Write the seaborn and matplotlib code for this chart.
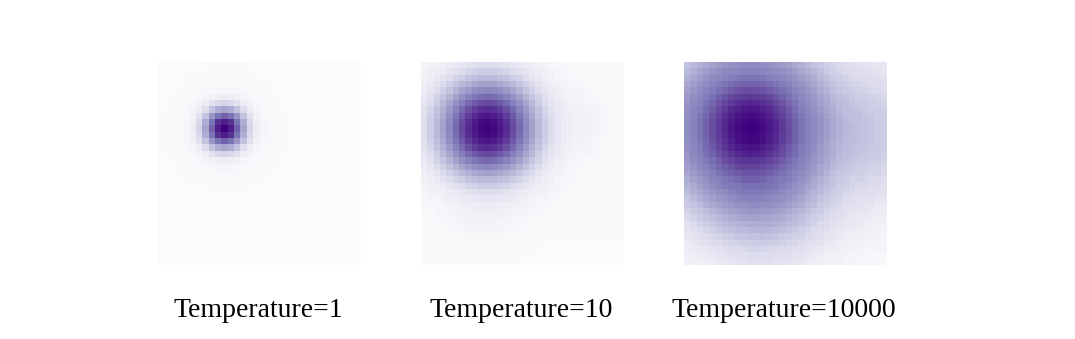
import numpy as np
import matplotlib
matplotlib.use("Agg")
import matplotlib.pyplot as plt
import seaborn as sns

temperatures = [1, 10, 10000]
panel_titles = ["Temperature=1", "Temperature=10", "Temperature=10000"]

# intensity (0-100, relative to each panel's maximum), 32 x 32 cells
t1_values = [
    [1,1,1,1,1,1,1,2,2,2,2,2,2,2,1,1,1,1,1,1,1,1,1,1,1,1,1,1,1,1,1,1],
    [1,1,1,1,2,2,2,2,2,2,2,2,2,2,2,2,1,1,1,1,1,1,1,1,1,1,1,1,1,1,1,1],
    [1,1,1,2,2,2,2,3,3,3,3,3,3,3,2,2,2,1,1,1,1,1,1,1,1,1,1,1,1,1,1,1],
    [1,1,1,2,2,3,3,3,4,4,4,4,4,3,3,3,2,2,1,1,1,1,1,1,1,1,1,1,1,1,1,1],
    [1,1,2,2,3,3,4,4,5,6,7,6,5,4,4,3,3,2,2,1,1,1,1,1,1,1,1,1,1,1,1,1],
    [1,2,2,3,3,4,5,7,10,12,13,12,10,7,5,4,3,3,2,2,1,1,1,1,1,1,1,1,1,1,1,1],
    [1,2,2,3,4,5,8,13,20,25,27,25,20,13,8,5,4,3,2,2,1,1,1,1,1,1,1,1,1,1,1,1],
    [2,2,3,3,4,7,13,23,35,43,46,43,35,23,13,7,4,3,3,2,2,1,1,1,1,1,1,1,1,1,1,1],
    [2,2,3,4,5,10,20,35,52,65,70,65,52,35,20,10,5,4,3,2,2,1,1,1,1,1,1,1,1,1,1,1],
    [2,2,3,4,6,12,25,43,65,84,90,84,65,43,25,12,6,4,3,2,2,1,1,1,1,1,1,1,1,1,1,1],
    [2,2,3,4,7,13,27,46,70,90,100,90,70,46,27,13,7,4,3,2,2,1,1,1,1,1,1,1,1,1,1,1],
    [2,2,3,4,6,12,25,43,65,84,90,84,65,43,25,12,6,4,3,2,2,1,1,1,1,1,1,1,1,1,1,1],
    [2,2,3,4,5,10,20,35,52,65,70,65,52,35,20,10,5,4,3,2,2,1,1,1,1,1,1,1,1,1,1,1],
    [2,2,3,3,4,7,13,23,35,43,46,43,35,23,13,7,4,3,3,2,2,1,1,1,1,1,1,1,1,1,1,1],
    [1,2,2,3,4,5,8,13,20,25,27,25,20,13,8,5,4,3,2,2,1,1,1,1,1,1,1,1,1,1,1,1],
    [1,2,2,3,3,4,5,7,10,12,13,12,10,7,5,4,3,3,2,2,1,1,1,1,1,1,1,1,1,1,1,1],
    [1,1,2,2,3,3,4,4,5,6,7,6,5,4,4,3,3,2,2,1,1,1,1,1,1,1,1,1,1,1,1,1],
    [1,1,1,2,2,3,3,3,4,4,4,4,4,3,3,3,2,2,1,1,1,1,1,1,1,1,1,1,1,1,1,1],
    [1,1,1,2,2,2,2,3,3,3,3,3,3,3,2,2,2,1,1,1,1,1,1,1,1,1,1,1,1,1,1,1],
    [1,1,1,1,2,2,2,2,2,2,2,2,2,2,2,2,1,1,1,1,1,1,1,1,1,1,1,1,1,1,1,1],
    [1,1,1,1,1,1,1,2,2,2,2,2,2,2,1,1,1,1,1,1,1,1,1,1,1,1,1,1,1,1,1,1],
    [1,1,1,1,1,1,1,1,1,1,1,1,1,1,1,1,1,1,1,1,1,1,1,1,1,1,1,1,1,1,1,1],
    [1,1,1,1,1,1,1,1,1,1,1,1,1,1,1,1,1,1,1,1,1,1,1,1,1,1,1,1,1,1,1,1],
    [1,1,1,1,1,1,1,1,1,1,1,1,1,1,1,1,1,1,1,1,1,1,1,1,1,1,1,1,1,1,1,1],
    [1,1,1,1,1,1,1,1,1,1,1,1,1,1,1,1,1,1,1,1,1,1,1,1,1,1,1,1,1,1,1,1],
    [1,1,1,1,1,1,1,1,1,1,1,1,1,1,1,1,1,1,1,1,1,1,1,1,1,1,1,1,1,1,1,1],
    [1,1,1,1,1,1,1,1,1,1,1,1,1,1,1,1,1,1,1,1,1,1,1,1,1,1,1,1,1,1,1,1],
    [1,1,1,1,1,1,1,1,1,1,1,1,1,1,1,1,1,1,1,1,1,1,1,1,1,1,1,1,1,1,1,1],
    [1,1,1,1,1,1,1,1,1,1,1,1,1,1,1,1,1,1,1,1,1,1,1,1,1,1,1,1,1,1,1,1],
    [1,1,1,1,1,1,1,1,1,1,1,1,1,1,1,1,1,1,1,1,1,1,1,1,1,1,1,1,1,1,1,1],
    [1,1,1,1,1,1,1,1,1,1,1,1,1,1,1,1,1,1,1,1,1,1,1,1,1,1,1,1,1,1,1,1],
    [1,1,1,1,1,1,1,1,1,1,1,1,1,1,1,1,1,1,1,1,1,1,1,1,1,1,1,1,1,1,1,1],
]

t10_values = [
    [6,8,10,11,14,16,18,20,22,23,23,23,22,20,18,16,14,11,10,8,6,5,4,4,3,2,2,2,2,2,2,2],
    [8,10,12,15,18,21,24,27,29,31,31,31,29,27,24,21,18,15,12,10,8,6,5,4,3,3,2,2,2,2,2,2],
    [10,12,15,19,23,28,31,35,37,39,39,39,37,35,31,28,23,19,15,12,10,7,6,5,4,3,2,2,2,2,2,2],
    [11,15,19,24,29,34,39,42,45,47,48,47,45,42,39,34,29,24,19,15,11,9,7,6,5,4,4,3,3,3,2,2],
    [14,18,23,29,35,41,46,51,55,57,58,57,55,51,46,41,35,29,23,18,14,12,9,7,6,6,5,4,3,3,3,2],
    [16,21,28,34,41,47,54,60,64,67,68,67,64,60,54,47,41,34,28,21,16,13,10,8,7,6,5,5,4,3,3,3],
    [18,24,31,39,46,54,61,68,73,76,77,76,73,68,61,54,46,39,31,24,19,15,12,9,8,7,7,6,4,4,3,3],
    [20,27,35,42,51,60,68,75,81,85,86,85,81,75,68,60,51,42,35,27,21,16,13,11,9,8,8,6,5,4,4,3],
    [22,29,37,45,55,64,73,81,87,91,93,91,87,81,73,64,55,45,37,29,23,17,13,12,9,9,8,7,5,4,4,3],
    [23,31,39,47,57,67,76,85,91,96,98,96,91,85,76,67,57,47,39,31,24,18,14,12,10,9,8,7,5,5,4,3],
    [23,31,39,48,58,68,77,86,93,98,100,98,93,86,77,68,58,48,39,31,24,18,14,12,9,9,8,7,5,4,4,3],
    [23,31,39,47,57,67,76,85,91,96,98,96,91,85,76,67,57,47,39,31,24,18,14,12,9,8,8,6,5,4,4,3],
    [22,29,37,45,55,64,73,81,87,91,93,91,87,81,73,64,55,45,37,29,23,17,13,11,9,8,7,6,4,4,3,3],
    [20,27,35,42,51,60,68,75,81,85,86,85,81,75,68,60,51,42,35,27,20,16,12,10,8,7,6,5,4,3,3,3],
    [18,24,31,39,46,54,61,68,73,76,77,76,73,68,61,54,46,39,31,24,18,15,11,8,6,6,6,5,3,3,3,2],
    [16,21,28,34,41,47,54,60,64,67,68,67,64,60,54,47,41,34,28,21,16,12,10,7,6,5,4,4,3,3,2,2],
    [14,18,23,29,35,41,46,51,55,57,58,57,55,51,46,41,35,29,23,18,14,11,8,6,5,4,3,2,2,2,2,2],
    [11,15,19,24,29,34,39,42,45,47,48,47,45,42,39,34,29,24,19,15,11,9,6,5,4,3,3,2,2,2,2,2],
    [10,12,15,19,23,28,31,35,37,39,39,39,37,35,31,28,23,19,15,12,10,7,6,5,4,3,2,2,2,2,2,2],
    [8,10,12,15,18,21,24,27,29,31,31,31,29,27,24,21,18,15,12,10,8,6,5,4,3,3,2,2,2,2,2,2],
    [6,8,10,11,14,16,18,20,22,23,23,23,22,20,18,16,14,11,10,8,6,5,4,4,3,2,2,2,2,2,2,2],
    [5,6,7,9,12,13,15,16,17,18,18,18,17,16,15,12,11,9,7,6,5,4,4,3,2,2,2,2,2,2,2,2],
    [4,5,6,7,9,10,12,13,13,14,14,14,13,12,11,10,8,6,6,5,4,4,3,3,2,2,2,2,2,2,2,2],
    [4,4,6,6,7,8,9,11,12,12,12,12,11,10,8,7,7,5,5,4,4,3,3,2,2,2,2,2,2,2,2,2],
    [3,3,5,5,7,7,8,9,9,9,9,9,9,8,7,6,6,4,4,3,3,3,2,2,2,2,2,2,2,2,2,2],
    [2,3,4,4,5,6,6,8,8,8,8,8,7,7,5,5,5,3,3,3,2,2,2,2,2,2,2,2,2,2,2,2],
    [2,2,2,4,4,4,6,6,6,6,6,6,6,5,5,4,3,3,2,2,2,2,2,2,2,2,2,2,2,2,2,2],
    [2,2,2,2,4,4,4,4,4,4,4,4,4,4,4,3,2,2,2,2,2,2,2,2,2,2,2,2,2,2,2,2],
    [2,2,2,2,2,2,2,2,2,2,2,2,2,2,2,2,2,2,2,2,2,2,2,2,2,2,2,2,2,2,2,2],
    [2,2,2,2,2,2,2,2,2,2,2,2,2,2,2,2,2,2,2,2,1,1,1,1,1,1,1,1,1,1,1,1],
    [2,2,2,2,2,2,2,2,2,2,2,2,2,2,2,2,2,2,1,1,1,1,1,1,1,1,1,1,1,1,1,1],
    [2,2,2,2,2,2,2,2,2,2,2,2,2,2,2,2,1,1,1,1,1,1,1,1,1,1,1,1,1,1,1,1],
]

t10000_values = [
    [35,39,42,45,48,50,52,54,55,56,56,56,55,54,52,50,48,45,42,39,35,33,30,27,25,23,21,20,20,19,17,17],
    [39,42,46,49,52,55,57,58,59,60,60,60,59,58,57,55,52,49,46,42,40,36,32,30,27,25,24,22,22,21,20,18],
    [42,46,49,53,56,58,60,62,64,65,65,65,64,62,60,58,56,53,49,46,43,39,36,32,31,28,26,25,24,23,22,20],
    [45,49,53,56,59,62,65,67,69,70,70,70,69,67,65,62,59,56,53,49,46,42,39,35,32,31,28,27,26,24,24,23],
    [48,52,56,59,63,66,69,72,74,76,76,76,74,72,69,66,63,59,56,52,49,44,41,37,34,32,31,29,28,26,25,24],
    [50,55,58,62,66,70,74,77,80,81,82,81,80,77,74,70,66,62,58,55,51,47,43,39,37,35,33,31,30,29,28,26],
    [52,57,60,65,69,74,78,82,85,87,88,87,85,82,78,74,69,65,60,57,53,48,45,41,38,36,34,33,32,31,29,27],
    [54,58,62,67,72,77,82,87,90,92,93,92,90,87,82,77,72,67,62,58,55,50,46,43,39,37,36,34,33,31,31,29],
    [55,59,64,69,74,80,85,90,94,96,97,96,94,90,85,80,74,69,64,60,56,52,48,44,41,38,37,36,34,33,31,30],
    [56,60,65,70,76,81,87,92,96,98,99,98,96,92,87,81,76,70,65,61,57,53,49,45,42,39,37,36,35,34,32,31],
    [56,60,65,70,76,82,88,93,97,99,100,99,97,93,88,82,76,70,65,61,57,53,49,45,42,39,38,36,35,34,32,31],
    [56,60,65,70,76,81,87,92,96,98,99,98,96,92,87,81,76,70,65,61,57,53,49,45,42,39,38,36,35,34,33,31],
    [55,59,64,69,74,80,85,90,95,97,98,97,95,91,86,81,75,70,65,60,57,52,48,44,41,38,38,36,35,34,32,31],
    [54,58,62,68,73,78,83,88,91,93,94,93,91,88,83,78,73,68,63,59,56,51,47,43,40,38,37,35,34,33,32,31],
    [52,58,61,66,70,75,79,83,86,89,90,89,87,84,80,76,71,67,62,59,54,50,46,43,39,37,36,34,33,32,31,29],
    [51,56,59,63,67,71,76,79,82,83,84,83,82,79,76,72,68,64,60,57,53,49,45,41,38,36,34,33,32,31,30,28],
    [49,53,57,60,65,68,71,74,77,79,79,79,77,75,72,69,66,62,59,55,51,46,43,39,36,34,33,31,30,29,28,26],
    [46,50,55,58,61,65,68,70,72,74,74,74,73,71,69,66,63,60,57,53,49,45,41,37,34,33,31,30,29,27,27,25],
    [43,48,51,55,59,61,64,66,68,70,70,70,69,67,65,63,61,58,54,50,46,42,39,35,33,31,28,28,27,26,25,23],
    [41,44,49,52,56,59,62,63,64,66,66,66,66,65,64,61,58,55,52,47,44,40,36,34,30,29,27,25,25,24,23,21],
    [37,42,45,49,52,55,57,60,62,63,63,64,63,62,60,58,55,52,49,45,41,38,35,31,29,27,25,24,23,22,21,20],
    [34,38,42,45,48,52,53,56,58,59,60,60,59,58,56,55,52,49,46,42,39,35,32,29,27,24,23,21,21,20,18,18],
    [32,34,38,42,45,47,50,52,54,55,56,56,55,54,53,51,49,46,43,39,37,33,30,27,25,22,21,20,19,18,16,15],
    [28,32,34,37,40,43,46,48,49,51,52,52,51,51,49,47,45,42,40,37,33,31,27,25,23,20,19,18,18,16,14,13],
    [25,28,32,34,37,39,41,43,45,47,47,48,47,46,45,44,41,39,37,33,31,28,25,23,21,19,17,16,15,14,13,12],
    [22,25,28,31,33,36,38,40,41,42,43,43,43,43,42,40,38,36,34,31,28,25,23,20,19,18,16,15,13,12,11,10],
    [19,22,24,27,30,32,34,36,38,38,39,40,40,39,38,37,35,32,30,28,25,23,21,19,17,15,14,12,11,10,9,9],
    [17,19,22,24,26,28,30,32,34,34,35,35,36,35,34,32,31,29,28,25,23,20,18,17,15,14,12,11,9,9,8,7],
    [15,17,19,21,23,24,26,27,29,30,30,31,31,30,30,29,27,26,24,22,21,19,17,15,13,11,10,9,9,8,7,6],
    [13,15,16,17,19,21,23,24,25,26,27,27,27,26,26,25,24,22,21,20,18,16,14,13,11,10,9,8,7,6,6,6],
    [11,12,14,16,17,18,19,21,22,22,23,23,23,23,22,22,21,20,19,17,15,13,12,10,10,8,7,7,6,5,5,4],
    [9,10,12,13,14,16,16,18,19,19,20,20,20,20,19,19,18,17,16,14,13,12,10,9,8,7,6,5,5,5,4,3],
]

panel_values = [t1_values, t10_values, t10000_values]

sns.set_theme(style="white")
plt.rcParams["font.family"] = ["Liberation Serif", "DejaVu Serif"]

W, H = 1075, 339
fig = plt.figure(figsize=(W / 100, H / 100), dpi=100)
fig.patch.set_facecolor("white")

panel_left_px = [158, 421, 684]
panel_top_px = 62
panel_size_px = 203

for left_px, title, vals in zip(panel_left_px, panel_titles, panel_values):
    ax = fig.add_axes([left_px / W, 1 - (panel_top_px + panel_size_px) / H,
                       panel_size_px / W, panel_size_px / H])
    sns.heatmap(np.array(vals, dtype=float), ax=ax, cmap="Purples", vmin=0, vmax=100,
                cbar=False, xticklabels=False, yticklabels=False, square=False)
    ax.set_xlabel("")
    ax.set_ylabel("")
    cx = (left_px + panel_size_px / 2) / W
    fig.text(cx - 1.5 / W, 1 - 317 / H, title, ha="center", va="baseline",
             fontsize=20, color="black")

fig.savefig("out.png", dpi=100, facecolor="white")
